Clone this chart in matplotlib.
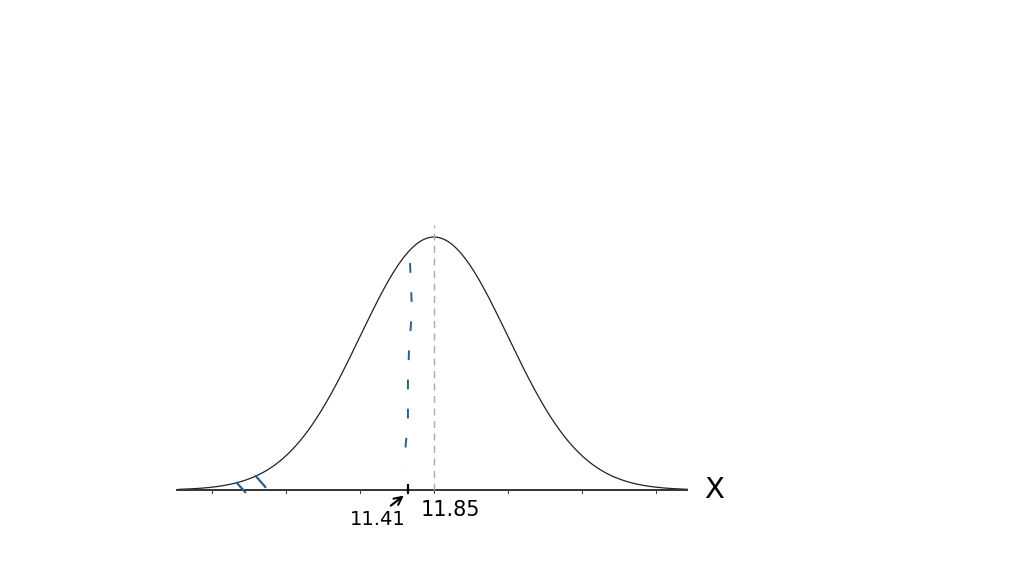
import numpy as np
import matplotlib
matplotlib.use('Agg')
import matplotlib.pyplot as plt

# distribution shown on the sketch
mu = 11.85
sigma = 1.25
x_sample = 11.41
tick_steps = [-3, -2, -1, 0, 1, 2, 3]

# hand-drawn blue dashed line near the sample value (x, height as fraction of peak)
blue_x = [11.445, 11.478, 11.428, 11.41, 11.41, 11.41, 11.36, 11.34]
blue_y = [0.897, 0.711, 0.553, 0.435, 0.344, 0.269, 0.150, 0.091]

# two blue hatch strokes in the left tail
hatch1_x = [8.52, 8.66]
hatch1_y = [0.028, -0.008]
hatch2_x = [8.84, 9.00]
hatch2_y = [0.055, 0.012]

fig = plt.figure(figsize=(10.24, 5.76), dpi=100)
ax = fig.add_axes([0, 0, 1, 1])
ax.set_xlim(4.519, 21.816)
ax.set_ylim(-0.340, 1.937)
ax.axis('off')

# bell curve
x = np.linspace(mu - 3.45 * sigma, mu + 3.42 * sigma, 500)
z = (x - mu) / sigma
ax.plot(x, np.exp(-z ** 2 / 2), color='#222222', lw=0.9)

# x axis with small ticks
ax.plot([mu - 3.47 * sigma, mu + 3.42 * sigma], [0, 0], color='#333333', lw=1.4)
for k in tick_steps:
    ax.plot([mu + k * sigma] * 2, [0, -0.013], color='#444444', lw=0.8)

# dashed line at the mean
ax.plot([mu, mu], [0, 1.047], color='#aaaaaa', lw=1.0, linestyle=(0, (5, 4)))

# blue dashed line and hatches
ax.plot(blue_x, blue_y, color='#2a6089', lw=1.4, linestyle=(0, (5, 10)))
ax.plot(hatch1_x, hatch1_y, color='#2a6089', lw=1.6)
ax.plot(hatch2_x, hatch2_y, color='#2a6089', lw=1.6)

# mark at the sample value and arrow to it
ax.plot([x_sample, x_sample], [0.020, -0.012], color='black', lw=1.6)
ax.annotate('', xy=(11.34, -0.022), xytext=(11.12, -0.062),
            arrowprops=dict(arrowstyle='->', color='black', lw=1.5,
                            shrinkA=0, shrinkB=0, mutation_scale=14))

ax.text(10.90, -0.115, '11.41', fontsize=14, ha='center', va='center', color='black')
ax.text(12.12, -0.079, '11.85', fontsize=15, ha='center', va='center', color='black')
ax.text(16.58, 0.0, 'X', fontsize=21, ha='center', va='center', color='black')

fig.savefig('out.png', dpi=100, facecolor='white')
